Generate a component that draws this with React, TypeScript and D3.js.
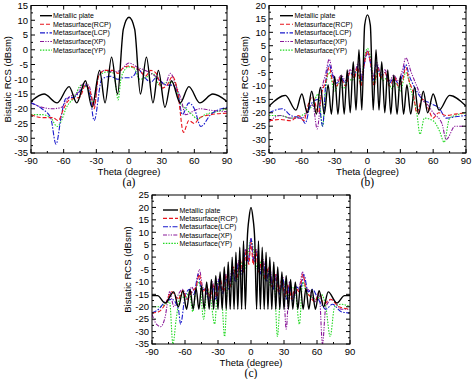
import React from "react";
import * as d3 from "d3";

type P = [number, number];

// ---------- Panel (a) ----------
const aMetal: P[] = [[-90,-17.5],[-78,-15],[-66,-18],[-55,-12.5],[-48,-18],[-40,-10.5],[-34,-19.5],[-27,-7],[-22,-18],[-16,-2.5],[-10.5,-15],[-5.2,7],[0,11],[5.2,7],[10.5,-15],[16,-2.5],[22,-18],[27,-7],[33,-19.5],[39,-10.5],[47,-18],[55,-12.5],[65,-18],[77,-15],[90,-17.5]];
const aRCP: P[] = [[-90,-22],[-80,-23],[-70,-23],[-65,-24],[-60,-20],[-55,-17],[-50,-16.5],[-45,-16],[-40,-12],[-35,-15],[-32,-20],[-28,-9],[-22,-7],[-15,-7],[-10,-8],[-5,-6],[0,-5.5],[5,-6],[10,-7],[15,-9],[20,-7],[25,-8],[30,-13],[35,-12],[40,-9],[45,-15],[50,-28],[55,-24],[60,-25],[65,-23],[75,-22],[90,-21.5]];
const aLCP: P[] = [[-90,-18],[-80,-20],[-72,-23],[-67,-32],[-62,-22],[-58,-16.5],[-50,-16],[-45,-14],[-40,-12],[-36,-15],[-32,-24],[-25,-10],[-17,-9],[-10,-10],[-5,-9.5],[0,-9.5],[5,-8.5],[8,-6.5],[12,-8],[16,-10],[20,-11],[25,-9.5],[30,-11],[35,-12],[40,-12],[45,-15],[49,-22],[55,-18],[60,-20],[66,-26],[75,-22],[90,-19.5]];
const aXP: P[] = [[-90,-18],[-80,-19.5],[-70,-20],[-62,-19.5],[-55,-16],[-48,-15],[-42,-11.5],[-37,-12],[-32,-19],[-28,-9],[-22,-7],[-15,-7.5],[-8,-7],[0,-4.5],[8,-6],[15,-7],[20,-8],[28,-10],[33,-12],[38,-8],[43,-12],[48,-17],[52,-22],[58,-21],[65,-20],[75,-20.5],[90,-21]];
const aYP: P[] = [[-90,-22],[-80,-22],[-72,-23],[-66,-26],[-62,-24],[-58,-20],[-50,-16],[-44,-12],[-38,-13],[-33,-18],[-28,-9],[-20,-7.5],[-14,-8],[-10,-17],[-7,-9],[0,-5.8],[5,-6.5],[10,-10],[15,-9.5],[22,-8],[28,-12],[35,-11],[42,-11],[47,-18],[52,-20],[58,-22],[63,-23.5],[70,-22],[80,-21],[90,-20]];

// ---------- Panel (b) ----------
const bMetal: P[] = [[-90,-17.5],[-75,-13.5],[-65.4,-19],[-60,-13],[-55,-20],[-51,-12],[-46.7,-20.5],[-43,-10.5],[-39.5,-20.5],[-36,-9.5],[-33,-20.5],[-30,-6.5],[-27,-20.5],[-24,-6],[-21.3,-20.5],[-18.5,-4],[-15.8,-20],[-13,-1],[-10.5,-19],[-7.8,3.5],[-5.2,-19],[-2.6,12.6],[0,16.5],[2.6,12.6],[5.2,-19],[7.8,3.5],[10.5,-19],[13,-1],[15.8,-20],[18.5,-4],[21.3,-20.5],[24,-6],[27,-20.5],[30,-6.5],[33,-20.5],[36,-9.5],[39.5,-20.5],[43,-10.5],[46.7,-20.5],[51,-12],[55,-20],[60,-13],[65.4,-19],[75,-13.5],[90,-17.5]];
const bRCP: P[] = [[-90,-23],[-80,-22.5],[-70,-23],[-63,-21],[-58,-23],[-55,-18],[-50,-14],[-45,-20],[-42,-13],[-38,-8],[-35,-3],[-32,-8],[-28,-10],[-25,-7],[-20,-10],[-16,-5],[-12,-7],[-9,-3],[-6,-10],[-3,-2],[0,3],[3,-2],[6,-10],[9,-3],[12,-7],[16,-5],[20,-10],[25,-7],[28,-10],[32,-8],[35,-3],[38,-8],[42,-13],[45,-20],[50,-15],[55,-18],[60,-22],[65,-20],[72,-21],[80,-20.5],[90,-20]];
const bLCP: P[] = [[-90,-20],[-78,-18.5],[-70,-21],[-60,-22],[-57,-24],[-52,-17],[-45,-15],[-41,-25],[-38,-8],[-35,-2],[-32,-6],[-28,-9],[-24,-7],[-20,-9],[-16,-5],[-12,-6],[-8,-2],[-5,-8],[-2.5,-1],[0,2],[2.5,-1],[5,-8],[8,-2],[12,-6],[16,-5],[20,-9],[24,-7],[28,-9],[32,-6],[35,-2],[38,-6],[40,-8],[45,-12],[50,-15],[55,-16],[60,-17],[65,-18],[72,-22],[80,-21.5],[90,-21]];
const bXP: P[] = [[-90,-23.5],[-80,-21],[-70,-22],[-60,-22],[-50,-17],[-46,-26],[-42,-12],[-38,-5],[-35,0],[-32,-5],[-28,-8],[-24,-6],[-20,-8],[-16,-4],[-12,-5],[-8,-1],[-5,-7],[-2.5,0],[0,3],[2.5,0],[5,-7],[8,-1],[12,-5],[16,-4],[20,-8],[24,-6],[28,-8],[32,-4],[35,0.5],[40,-5],[45,-10],[50,-15],[55,-17],[60,-20],[68,-24],[72,-30],[80,-25],[90,-25]];
const bYP: P[] = [[-90,-21],[-80,-21],[-70,-22],[-60,-21],[-50,-17],[-45,-13],[-41,-25],[-38,-10],[-35,-5],[-30,-12],[-26,-9],[-22,-11],[-18,-7],[-14,-8],[-10,-4],[-6,-9],[-3,0],[0,4],[3,0],[6,-9],[10,-4],[14,-8],[18,-7],[22,-11],[26,-9],[30,-12],[35,-5],[40,-12],[45,-20],[48,-28],[52,-22],[60,-23],[66,-27],[70,-31],[75,-22],[80,-21],[90,-20]];

// ---------- Panel (c) ----------
const cMetal: P[] = [[-90,-15.5],[-85,-15.5],[-78,-18.5],[-70.2,-14],[-66,-20],[-61.9,-13.5],[-58.6,-21],[-55.4,-13],[-52.6,-21],[-49.9,-12.5],[-47.4,-21],[-44.9,-11.5],[-42.6,-21],[-40.3,-10],[-38,-21],[-36,-9],[-34,-21],[-32,-7.5],[-30,-21],[-28.1,-6],[-26.2,-21],[-24.3,-4],[-22.5,-21],[-20.7,-2],[-18.9,-21],[-17.1,0],[-15.4,-21],[-13.7,2],[-12,-21],[-10.2,4],[-8.5,-21],[-6.8,6.5],[-5.1,-21],[-3.4,7],[-1.7,16],[0,20],[1.7,16],[3.4,7],[5.1,-21],[6.8,6.5],[8.5,-21],[10.2,4],[12,-21],[13.7,2],[15.4,-21],[17.1,0],[18.9,-21],[20.7,-2],[22.5,-21],[24.3,-4],[26.2,-21],[28.1,-6],[30,-21],[32,-7.5],[34,-21],[36,-9],[38,-21],[40.3,-10],[42.6,-21],[44.9,-11.5],[47.4,-21],[49.9,-12.5],[52.6,-21],[55.4,-13],[58.6,-21],[61.9,-13.5],[66,-20],[70.2,-14],[78,-18.5],[85,-15.5],[90,-15.5]];
const cRCP: P[] = [[-90,-22.5],[-84,-22],[-78,-19],[-72,-14],[-66,-17],[-62,-13.5],[-58,-17],[-54,-14],[-50,-12],[-47,-7],[-44,-14],[-40,-12],[-37,-17],[-34,-11],[-31,-16],[-28,-9],[-25,-14],[-22,-7],[-19,-12],[-16,-4],[-13,-9],[-10,-1],[-7,-6],[-4,3],[-2,-3],[0,6],[2,-3],[4,3],[7,-6],[10,-1],[13,-9],[16,-4],[19,-12],[22,-7],[25,-14],[28,-9],[31,-16],[34,-11],[37,-17],[40,-12],[44,-14],[47,-7],[50,-13],[54,-16],[58,-18],[62,-14],[66,-19],[72,-17],[80,-20],[90,-21]];
const cLCP: P[] = [[-90,-22.5],[-84,-21],[-78,-18],[-72,-17],[-66,-21],[-64,-27],[-60,-16],[-56,-13],[-52,-15],[-48,-7],[-45,-13],[-41,-13],[-38,-18],[-35,-11],[-32,-17],[-29,-9],[-26,-15],[-23,-8],[-20,-13],[-17,-5],[-14,-10],[-11,-2],[-8,-7],[-5,2],[-2.5,-2],[0,7.5],[2.5,-2],[5,2],[8,-7],[11,-2],[14,-10],[17,-5],[20,-13],[23,-8],[26,-15],[29,-9],[32,-17],[35,-11],[38,-18],[41,-12],[45,-13],[48,-7],[52,-14],[56,-13],[60,-16],[64,-19],[68,-21],[74,-19],[82,-22],[90,-22.5]];
const cXP: P[] = [[-90,-23],[-86,-27],[-82,-28],[-78,-24],[-74,-14],[-70,-20],[-66,-15],[-62,-13],[-58,-17],[-54,-12],[-51,-14],[-47,-5],[-44,-12],[-41,-14],[-38,-17],[-35,-10],[-32,-16],[-29,-8],[-26,-14],[-23,-7],[-20,-12],[-17,-4],[-14,-9],[-11,-1],[-8,-6],[-5,3],[-2.5,-1],[0,7.5],[2.5,-1],[5,3],[8,-6],[11,-1],[14,-9],[17,-4],[20,-12],[23,-7],[26,-14],[29,-8],[32,-29],[35,-10],[38,-16],[41,-14],[44,-12],[47,-6],[50,-12],[54,-14],[58,-18],[62,-15],[65,-35],[68,-20],[74,-17],[82,-21],[90,-21]];
const cYP: P[] = [[-90,-20],[-84,-20],[-78,-19],[-74,-18],[-71,-35],[-68,-25],[-64,-15],[-60,-17],[-56,-14],[-53,-22],[-50,-13],[-47,-10],[-43,-25],[-40,-13],[-37,-16],[-33,-27],[-30,-10],[-27,-14],[-24,-32],[-21,-9],[-18,-12],[-15,-5],[-12,-9],[-9,-2],[-6,-5],[-3,1],[0,7],[3,1],[6,-5],[9,-2],[12,-9],[15,-5],[18,-12],[21,-9],[24,-32],[27,-14],[30,-10],[33,-17],[36,-12],[40,-13],[44,-27],[47,-10],[50,-14],[55,-16],[60,-17],[64,-15],[68,-20],[72,-32],[76,-20],[82,-19],[90,-20]];

const seriesNames = ["Metallic plate", "Metasurface(RCP)", "Metasurface(LCP)", "Metasurface(XP)", "Metasurface(YP)"];
const xTickValues = [-90, -60, -30, 0, 30, 60, 90];

const styles = [
  { stroke: "#000000", dash: "", width: 1.4 },
  { stroke: "#e8141c", dash: "4,2", width: 1.1 },
  { stroke: "#1a1acc", dash: "5,1.5,1.5,1.5", width: 1.1 },
  { stroke: "#8a1a9a", dash: "4,1.3,1.2,1.3,1.2,1.3", width: 1.1 },
  { stroke: "#22d822", dash: "1.5,1.3", width: 1.1 },
];

const FONT = "'Liberation Sans', Arial, sans-serif";

type PanelProps = {
  id: string;
  l: number; r: number; t: number; b: number;
  yDomain: [number, number];
  data: P[][];
  label: string;
  legend: { x1: number; x2: number; tx: number; y0: number; dy: number };
  yTitleX: number;
};

function Panel({ id, l, r, t, b, yDomain, data, label, legend, yTitleX }: PanelProps) {
  const x = d3.scaleLinear().domain([-90, 90]).range([l, r]);
  const y = d3.scaleLinear().domain(yDomain).range([b, t]);
  const line = d3.line<P>().x(d => x(d[0])).y(d => y(d[1])).curve(d3.curveMonotoneX);
  const yTicks = d3.range(yDomain[0], yDomain[1] + 0.01, 5);
  const yMinor = d3.range(yDomain[0] + 2.5, yDomain[1], 5);
  const xMinor = d3.range(-75, 90, 30);
  const maj = 4, min = 2;
  return (
    <g>
      <defs>
        <clipPath id={id}>
          <rect x={l} y={t} width={r - l} height={b - t} />
        </clipPath>
      </defs>
      <g clipPath={`url(#${id})`}>
        {[4, 3, 2, 1, 0].map(i => (
          <path key={i} d={line(data[i]) || ""} fill="none" stroke={styles[i].stroke}
            strokeWidth={styles[i].width} strokeDasharray={styles[i].dash} strokeLinejoin="round" />
        ))}
      </g>
      <rect x={l} y={t} width={r - l} height={b - t} fill="none" stroke="#000" strokeWidth={1} />
      {xTickValues.map(v => (
        <g key={"xt" + v}>
          <line x1={x(v)} x2={x(v)} y1={b} y2={b - maj} stroke="#000" />
          <line x1={x(v)} x2={x(v)} y1={t} y2={t + maj} stroke="#000" />
          <text x={x(v)} y={b + 10.5} fontSize={9.5} fontFamily={FONT} textAnchor="middle">{v}</text>
        </g>
      ))}
      {xMinor.map(v => (
        <g key={"xm" + v}>
          <line x1={x(v)} x2={x(v)} y1={b} y2={b - min} stroke="#000" />
          <line x1={x(v)} x2={x(v)} y1={t} y2={t + min} stroke="#000" />
        </g>
      ))}
      {yTicks.map(v => (
        <g key={"yt" + v}>
          <line x1={l} x2={l + maj} y1={y(v)} y2={y(v)} stroke="#000" />
          <line x1={r} x2={r - maj} y1={y(v)} y2={y(v)} stroke="#000" />
          <text x={l - 3} y={y(v) + (v === yDomain[0] ? 2.5 : 3.3)} fontSize={9.5} fontFamily={FONT} textAnchor="end">{v}</text>
        </g>
      ))}
      {yMinor.map(v => (
        <g key={"ym" + v}>
          <line x1={l} x2={l + min} y1={y(v)} y2={y(v)} stroke="#000" />
          <line x1={r} x2={r - min} y1={y(v)} y2={y(v)} stroke="#000" />
        </g>
      ))}
      <text x={(l + r) / 2} y={b + 21.5} fontSize={9.5} fontFamily={FONT} textAnchor="middle">Theta (degree)</text>
      <text x={(l + r) / 2} y={b + 33} fontSize={11.5} fontFamily="'Liberation Serif', 'Times New Roman', serif" textAnchor="middle">{label}</text>
      <text transform={`translate(${yTitleX},${(t + b) / 2}) rotate(-90)`} fontSize={9.5} fontFamily={FONT} textAnchor="middle">Bistatic RCS (dBsm)</text>
      {seriesNames.map((name, i) => {
        const yy = legend.y0 + i * legend.dy;
        return (
          <g key={name}>
            <line x1={legend.x1} x2={legend.x2} y1={yy} y2={yy} stroke={styles[i].stroke}
              strokeWidth={styles[i].width} strokeDasharray={styles[i].dash} />
            <text x={legend.tx} y={yy + 2.5} fontSize={7} fontFamily={FONT}>{name}</text>
          </g>
        );
      })}
    </g>
  );
}

export default function App() {
  return (
    <svg width={474} height={379} viewBox="0 0 474 379"
      style={{ position: "absolute", left: 0, top: 0, background: "#fff" }}>
      <rect x={0} y={0} width={474} height={379} fill="#fff" />
      <Panel id="ca" l={31} r={227} t={5.5} b={153} yDomain={[-35, 15]}
        data={[aMetal, aRCP, aLCP, aXP, aYP]} label="(a)"
        legend={{ x1: 40, x2: 52, tx: 53, y0: 15.7, dy: 8.6 }} yTitleX={11} />
      <Panel id="cb" l={269} r={466} t={5.5} b={153} yDomain={[-35, 20]}
        data={[bMetal, bRCP, bLCP, bXP, bYP]} label="(b)"
        legend={{ x1: 280, x2: 293, tx: 294.5, y0: 15.7, dy: 8.6 }} yTitleX={248} />
      <Panel id="cc" l={152} r={350} t={195} b={344} yDomain={[-35, 25]}
        data={[cMetal, cRCP, cLCP, cXP, cYP]} label="(c)"
        legend={{ x1: 163, x2: 178, tx: 179.5, y0: 210, dy: 8.35 }} yTitleX={131} />
    </svg>
  );
}
